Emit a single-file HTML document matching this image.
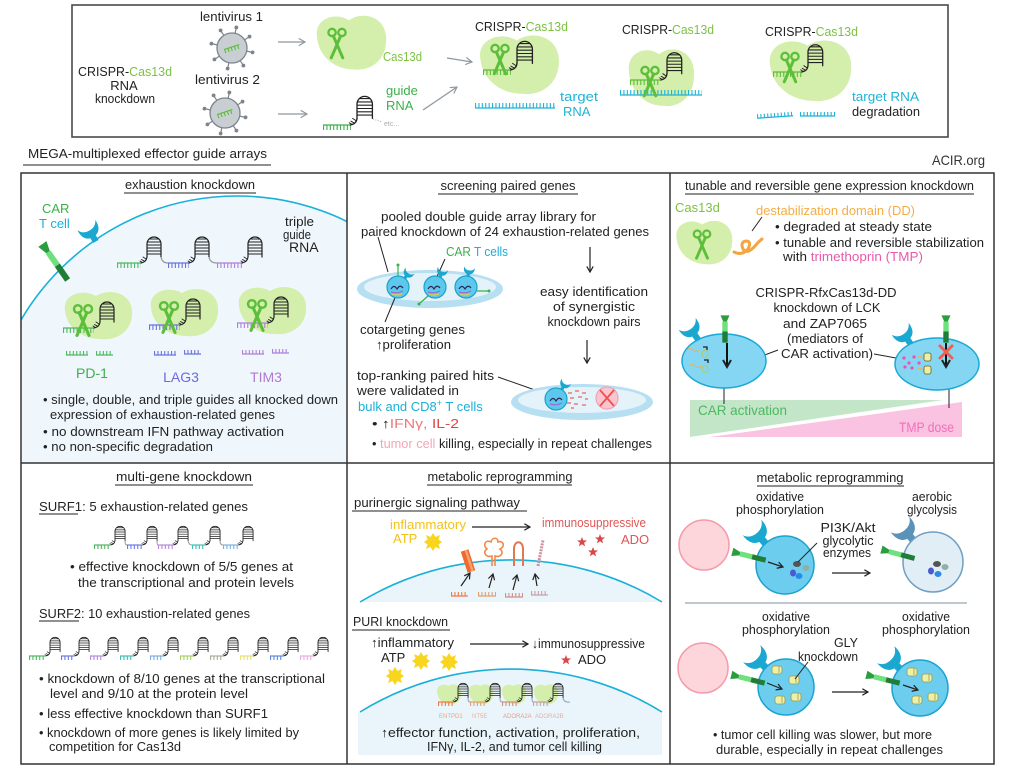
<!DOCTYPE html>
<html><head><meta charset="utf-8">
<style>
html,body{margin:0;padding:0;background:#fff;width:1024px;height:768px;overflow:hidden}
svg{display:block}
text{font-family:"Liberation Sans",sans-serif;font-size:13px;fill:#222}
.c{text-anchor:middle}
.cl{fill:none;stroke-width:1.2}
.ck{fill:none;stroke-width:5;stroke-dasharray:1.1 2.3}
.ln{stroke:#222;stroke-width:1;fill:none}
.ar{stroke:#222;stroke-width:1.2;fill:none;marker-end:url(#ah)}
.ag{stroke:#8e97a0;stroke-width:1.3;fill:none;marker-end:url(#ag)}
</style></head><body>
<svg width="1024" height="768" viewBox="0 0 1024 768" xmlns="http://www.w3.org/2000/svg">
<defs>
<marker id="ah" viewBox="0 0 10 10" refX="8" refY="5" markerWidth="8" markerHeight="8" orient="auto" markerUnits="userSpaceOnUse"><path d="M1,1L8,5L1,9" fill="none" stroke="#222" stroke-width="1.5"/></marker>
<marker id="ag" viewBox="0 0 10 10" refX="8" refY="5" markerWidth="9" markerHeight="9" orient="auto" markerUnits="userSpaceOnUse"><path d="M1,1L8,5L1,9" fill="none" stroke="#8e97a0" stroke-width="1.3"/></marker>
<marker id="ahb" viewBox="0 0 10 10" refX="7" refY="5" markerWidth="10" markerHeight="10" orient="auto" markerUnits="userSpaceOnUse"><path d="M1,1L8,5L1,9" fill="none" stroke="#222" stroke-width="2"/></marker>
<g id="hp" fill="none" stroke="#222" stroke-width="1.2" stroke-linecap="round">
<path d="M0,-6V-19A7,7,0,0,1,14,-19V-6"/>
<path d="M0,-9H14M0,-12H14M0,-15H14M0,-18H14M0.5,-21H13.5M2.5,-24H11.5" stroke-width="1"/>
<path d="M0,-6Q-0.5,-1,-6,0"/>
<path d="M-1,-4L-4,-6M-2.5,-1.8L-5.5,-3.5M-4.5,-0.5L-7,-2" stroke-width="0.9"/>
</g>
<g id="sc" fill="none" stroke="#5cbf3a" stroke-linecap="round">
<circle cx="-4.3" cy="-10" r="3.2" stroke-width="2"/>
<circle cx="4.3" cy="-10" r="3.2" stroke-width="2"/>
<path d="M-3.2,-7L5,12M3.2,-7L-5,12" stroke-width="2.6"/>
</g>
<path id="bl" fill="#d4eeab" d="M-33,-4C-36,-20,-16,-27,-2,-19C12,-28,36,-22,34,0C33,17,18,26,2,24C-14,24,-31,14,-33,-4Z"/>
<g id="rc"><path d="M-9,-15C-9.5,-6,-5,-3,0,-3C5,-3,9.5,-6,9,-15C7,-11,4,-9.5,0,-9.5C-4,-9.5,-7,-11,-9,-15Z"/><rect x="-2.7" y="-4" width="5.4" height="5.5"/></g>
<g id="car"><path d="M-5,-22H5L2,-12H-2Z" fill="#2a9d3e"/><rect x="-3" y="-12" width="6" height="16" fill="#6ee07c"/><rect x="-3" y="4" width="6" height="18" fill="#1f7d36"/></g>
<g id="vir">
<g stroke="#7c848e" stroke-width="1.2" transform="rotate(12)"><path d="M-21,0H21M0,-21V21M-14.8,-14.8L14.8,14.8M-14.8,14.8L14.8,-14.8"/></g>
<g fill="#7c848e" transform="rotate(12)"><circle cx="21" r="1.9"/><circle cx="-21" r="1.9"/><circle cy="21" r="1.9"/><circle cy="-21" r="1.9"/><circle cx="14.8" cy="14.8" r="1.9"/><circle cx="-14.8" cy="14.8" r="1.9"/><circle cx="14.8" cy="-14.8" r="1.9"/><circle cx="-14.8" cy="-14.8" r="1.9"/></g>
<circle r="15" fill="#c9ced3" stroke="#7c848e" stroke-width="1.3"/>
<g transform="rotate(-18)" stroke="#5cbf3a"><path class="cl" d="M-8,-1H8"/><path class="ck" style="stroke-width:4" d="M-8,1H8"/></g>
</g>
<g id="yb"><rect x="-5" y="-4" width="10" height="8" rx="2.5" fill="#eef0a6" stroke="#9a9a50" stroke-width="0.8"/><path d="M2,-4V3" stroke="#9a9a50" stroke-width="0.8"/></g>
<path id="burst" fill="#f8d620" d="M0,-9L2.5,-5L7,-7L5.5,-2.5L9,0L5.5,2.5L7,7L2.5,5L0,9L-2.5,5L-7,7L-5.5,2.5L-9,0L-5.5,-2.5L-7,-7L-2.5,-5Z"/>
<path id="star" fill="#d84848" d="M0,-5L1.3,-1.6L5,-1.5L2.1,0.8L3.1,4.4L0,2.3L-3.1,4.4L-2.1,0.8L-5,-1.5L-1.3,-1.6Z"/>
<clipPath id="p1"><rect x="21" y="173" width="326" height="290"/></clipPath>
</defs>
<rect width="1024" height="768" fill="#fff"/>

<!-- TOP BOX -->
<rect x="72" y="5" width="876" height="132" fill="none" stroke="#4a4a4a" stroke-width="1.6"/>
<text x="200" y="21" textLength="63" lengthAdjust="spacingAndGlyphs">lentivirus 1</text>
<use href="#vir" transform="translate(232,48)"/>
<text x="195" y="84" textLength="65" lengthAdjust="spacingAndGlyphs">lentivirus 2</text>
<use href="#vir" transform="translate(225,113)"/>
<text x="125" y="76" class="c" textLength="94" lengthAdjust="spacingAndGlyphs">CRISPR-<tspan fill="#7cc242">Cas13d</tspan></text>
<text x="124" y="90" class="c">RNA</text>
<text x="125" y="103" class="c" textLength="60" lengthAdjust="spacingAndGlyphs">knockdown</text>
<path class="ag" d="M278,42H305"/>
<path class="ag" d="M278,114H307"/>
<path class="ag" d="M423,110L457,87"/>
<path class="ag" d="M447,58L472,62"/>
<use href="#bl" transform="translate(351,42) scale(1.03,1.14)"/>
<use href="#sc" transform="translate(337,44) scale(1.15)"/>
<text x="383" y="61" textLength="39" lengthAdjust="spacingAndGlyphs" style="fill:#7cc242">Cas13d</text>
<g stroke="#3cb04a"><path class="cl" d="M323,125H351"/><path class="ck" d="M323,127.5H351"/></g>
<use href="#hp" transform="translate(357,125) scale(1.1)"/>
<path d="M373,119L382,122" stroke="#aaa" stroke-width="1" stroke-dasharray="1 1.5"/>
<text x="384" y="126" style="font-size:7px;fill:#aaa">etc...</text>
<text x="386" y="95" style="fill:#3cb04a">guide</text>
<text x="386" y="110" style="fill:#3cb04a">RNA</text>

<text x="475" y="31" textLength="93" lengthAdjust="spacingAndGlyphs">CRISPR-<tspan fill="#7cc242">Cas13d</tspan></text>
<use href="#bl" transform="translate(519,64) scale(1.17,1.24)"/>
<g stroke="#5cbf3a"><path class="cl" d="M483,70H511"/><path class="ck" d="M483,72.5H511"/></g>
<use href="#hp" transform="translate(517,70) scale(1.1)"/>
<use href="#sc" transform="translate(500,60) scale(1.15)"/>
<g stroke="#1fb3d6"><path class="cl" d="M475,108H555"/><path class="ck" d="M475,105.5H555"/></g>
<text x="560" y="101" textLength="38" lengthAdjust="spacingAndGlyphs" style="fill:#1fb3d6">target</text>
<text x="563" y="116" style="fill:#1fb3d6">RNA</text>

<text x="622" y="34" textLength="92" lengthAdjust="spacingAndGlyphs">CRISPR-<tspan fill="#7cc242">Cas13d</tspan></text>
<use href="#bl" transform="translate(661,77) scale(0.97,1.2)"/>
<g stroke="#5cbf3a"><path class="cl" d="M630,80H660"/><path class="ck" d="M630,82.5H660"/></g>
<use href="#hp" transform="translate(667,80) scale(1.05)"/>
<g stroke="#1fb3d6"><path class="cl" d="M620,95H702"/><path class="ck" d="M620,92.5H702"/></g>
<use href="#sc" transform="translate(650,82) scale(1.15)"/>

<text x="765" y="36" textLength="93" lengthAdjust="spacingAndGlyphs">CRISPR-<tspan fill="#7cc242">Cas13d</tspan></text>
<use href="#bl" transform="translate(810,70) scale(1.21,1.28)"/>
<g stroke="#5cbf3a"><path class="cl" d="M773,72H802"/><path class="ck" d="M773,74.5H802"/></g>
<use href="#hp" transform="translate(808,72) scale(1.05)"/>
<use href="#sc" transform="translate(790,68) scale(1.15)"/>
<g stroke="#1fb3d6" transform="rotate(-4,775,115)"><path class="cl" d="M757,117H793"/><path class="ck" style="stroke-width:4" d="M757,115H793"/></g>
<g stroke="#1fb3d6"><path class="cl" d="M800,116H835"/><path class="ck" style="stroke-width:4" d="M800,114H835"/></g>
<text x="852" y="101" textLength="67" lengthAdjust="spacingAndGlyphs" style="fill:#1fb3d6">target RNA</text>
<text x="852" y="116" textLength="68" lengthAdjust="spacingAndGlyphs">degradation</text>

<!-- HEADER -->
<text x="28" y="158" textLength="239" lengthAdjust="spacingAndGlyphs">MEGA-multiplexed effector guide arrays</text>
<path class="ln" d="M23,165H271"/>
<text x="932" y="165" textLength="53" lengthAdjust="spacingAndGlyphs" style="font-size:14px;fill:#333">ACIR.org</text>

<!-- PANEL 1 -->
<g clip-path="url(#p1)"><circle cx="237" cy="446" r="250" fill="#f0f7fc" stroke="#1ab0d8" stroke-width="1.6"/></g>
<text x="190" y="189" class="c" textLength="130" lengthAdjust="spacingAndGlyphs">exhaustion knockdown</text>
<path class="ln" d="M124,193H256"/>
<text x="42" y="213" style="fill:#3cb04a">CAR</text>
<text x="39" y="228" style="fill:#1ab0d8">T cell</text>
<use href="#rc" fill="#1aa8d0" transform="translate(95,240) rotate(-30) scale(1.15)"/>
<use href="#car" transform="translate(55,262) rotate(-35)"/>
<g stroke="#4cb860"><path class="cl" d="M117,263H141"/><path class="ck" d="M117,265.5H141"/></g>
<use href="#hp" transform="translate(147,263)"/>
<path d="M161,257Q162,263,168,263" stroke="#999" fill="none" stroke-width="1.2"/>
<g stroke="#6a72e0"><path class="cl" d="M168,263H189"/><path class="ck" d="M168,265.5H189"/></g>
<use href="#hp" transform="translate(195,263)"/>
<path d="M209,257Q210,263,217,263" stroke="#999" fill="none" stroke-width="1.2"/>
<g stroke="#b080d8"><path class="cl" d="M217,263H242"/><path class="ck" d="M217,265.5H242"/></g>
<use href="#hp" transform="translate(248,263)"/>
<text x="285" y="226" textLength="29" lengthAdjust="spacingAndGlyphs">triple</text>
<text x="283" y="239" textLength="28" lengthAdjust="spacingAndGlyphs">guide</text>
<text x="289" y="252" style="font-size:14px">RNA</text>

<use href="#bl" transform="translate(98,315)"/>
<g stroke="#4cb860"><path class="cl" d="M63,328H94"/><path class="ck" d="M63,330.5H94"/></g>
<use href="#hp" transform="translate(100,328)"/>
<use href="#sc" transform="translate(83,321) scale(1.2)"/>
<g stroke="#4cb860"><path class="cl" d="M66,355H88M96,355H113"/><path class="ck" style="stroke-width:4" d="M66,353H88M96,353H113"/></g>

<use href="#bl" transform="translate(184,312)"/>
<g stroke="#6a72e0"><path class="cl" d="M149,325H180"/><path class="ck" d="M149,327.5H180"/></g>
<use href="#hp" transform="translate(186,325)"/>
<use href="#sc" transform="translate(169,318) scale(1.2)"/>
<g stroke="#6a72e0"><path class="cl" d="M154,355H176M184,354H201"/><path class="ck" style="stroke-width:4" d="M154,353H176M184,352H201"/></g>

<use href="#bl" transform="translate(272,310)"/>
<g stroke="#b080d8"><path class="cl" d="M237,323H268"/><path class="ck" d="M237,325.5H268"/></g>
<use href="#hp" transform="translate(274,323)"/>
<use href="#sc" transform="translate(257,316) scale(1.2)"/>
<g stroke="#b080d8"><path class="cl" d="M242,354H264M272,353H289"/><path class="ck" style="stroke-width:4" d="M242,352H264M272,351H289"/></g>

<text x="92" y="378" class="c" style="font-size:14px;fill:#3cb04a">PD-1</text>
<text x="181" y="382" class="c" style="font-size:14px;fill:#6a6ae0">LAG3</text>
<text x="266" y="382" class="c" style="font-size:14px;fill:#b07ad0">TIM3</text>
<text x="43" y="404" textLength="295" lengthAdjust="spacingAndGlyphs">• single, double, and triple guides all knocked down</text>
<text x="50" y="419" textLength="225" lengthAdjust="spacingAndGlyphs">expression of exhaustion-related genes</text>
<text x="43" y="436" textLength="241" lengthAdjust="spacingAndGlyphs">• no downstream IFN pathway activation</text>
<text x="43" y="451" textLength="170" lengthAdjust="spacingAndGlyphs">• no non-specific degradation</text>

<!-- PANEL 2 -->
<text x="508" y="190" class="c" textLength="135" lengthAdjust="spacingAndGlyphs">screening paired genes</text>
<path class="ln" d="M438,194H578"/>
<text x="381" y="221" textLength="215" lengthAdjust="spacingAndGlyphs">pooled double guide array library for</text>
<text x="361" y="236" textLength="288" lengthAdjust="spacingAndGlyphs">paired knockdown of 24 exhaustion-related genes</text>
<text x="446" y="256" textLength="62" lengthAdjust="spacingAndGlyphs"><tspan fill="#3cb04a">CAR </tspan><tspan fill="#1ab0d8">T cells</tspan></text>
<ellipse cx="430" cy="289" rx="73" ry="19" fill="#b6dff2"/>
<ellipse cx="430" cy="287" rx="66" ry="14" fill="#e4f3fa"/>
<path class="ln" d="M378,237L388,272M445,259L435,281M385,322L397,293"/>
<g stroke-width="1.2">
<path d="M398,276V266M428,296L419,304M477,291H489" stroke="#3cb04a"/>
<circle cx="398" cy="265" r="1.5" fill="#3cb04a"/><circle cx="419" cy="304" r="1.5" fill="#3cb04a"/><circle cx="489" cy="291" r="1.5" fill="#3cb04a"/>
</g>
<use href="#rc" fill="#1aa8d0" transform="translate(405,278) rotate(35) scale(0.6)"/>
<use href="#rc" fill="#1aa8d0" transform="translate(440,277) rotate(20) scale(0.6)"/>
<use href="#rc" fill="#1aa8d0" transform="translate(468,276) rotate(10) scale(0.6)"/>
<g stroke="#1aa2cf" stroke-width="1.2" fill="#5ec8ec"><circle cx="398" cy="287" r="11"/><circle cx="435" cy="287" r="11"/><circle cx="466" cy="287" r="11"/></g>
<g fill="none" stroke-width="1.2">
<path d="M391,289q3,-5 6,0q3,-5 6,-1M428,289q3,-5 6,0q3,-5 6,-1M459,289q3,-5 6,0q3,-5 6,-1" stroke="#2a2a5a"/>
<path d="M391,292q6,2 12,-1M428,292q6,2 12,-1M459,292q6,2 12,-1" stroke="#9a6ad0"/>
<path d="M392,294q5,2 10,0M429,294q5,2 10,0M460,294q5,2 10,0" stroke="#e8d040"/>
</g>
<text x="594" y="296" class="c" textLength="108" lengthAdjust="spacingAndGlyphs">easy identification</text>
<text x="594" y="311" class="c" textLength="82" lengthAdjust="spacingAndGlyphs">of synergistic</text>
<text x="594" y="326" class="c" textLength="93" lengthAdjust="spacingAndGlyphs">knockdown pairs</text>
<path class="ar" d="M590,247V272"/>
<path class="ar" d="M587,340V363"/>
<text x="360" y="334" textLength="105" lengthAdjust="spacingAndGlyphs">cotargeting genes</text>
<text x="376" y="349" textLength="75" lengthAdjust="spacingAndGlyphs">↑proliferation</text>
<text x="357" y="380" textLength="137" lengthAdjust="spacingAndGlyphs">top-ranking paired hits</text>
<text x="357" y="395" textLength="102" lengthAdjust="spacingAndGlyphs">were validated in</text>
<text x="358" y="411" style="fill:#1ab0d8">bulk and CD8<tspan dy="-5" style="font-size:9px">+</tspan><tspan dy="5"> T cells</tspan></text>
<text x="372" y="428" textLength="87" lengthAdjust="spacingAndGlyphs">• ↑<tspan fill="#f07878">IFNγ, </tspan> <tspan fill="#e04848">IL-2</tspan></text>
<text x="372" y="448" textLength="280" lengthAdjust="spacingAndGlyphs">• <tspan fill="#f5a5b5">tumor cell</tspan> killing, especially in repeat challenges</text>
<path class="ln" d="M498,377L552,396"/>
<ellipse cx="582" cy="402" rx="71" ry="18" fill="#b6dff2"/>
<ellipse cx="582" cy="400" rx="64" ry="13" fill="#e4f3fa"/>
<use href="#rc" fill="#1aa8d0" transform="translate(562,389) rotate(30) scale(0.6)"/>
<circle cx="556" cy="399" r="11" fill="#5ec8ec" stroke="#1aa2cf" stroke-width="1.2"/>
<path d="M550,401q3,-5 6,0q3,-5 6,-1" stroke="#2a2a5a" fill="none" stroke-width="1.2"/>
<path d="M550,404q6,2 12,-1" stroke="#9a6ad0" fill="none" stroke-width="1.2"/>
<path d="M568,393h4M575,391h4M582,393h4M570,398h4M578,397h4M585,399h3M567,403h4M574,404h4M582,405h4M571,408h3" stroke="#f06060" stroke-width="1.2"/>
<circle cx="607" cy="398" r="11" fill="#f9c6d0" stroke="#f2a3b3" stroke-width="1.2"/>
<path d="M600,390L614,406M614,390L600,406" stroke="#f05050" stroke-width="1.8"/>

<!-- PANEL 3 -->
<text x="685" y="190" textLength="289" lengthAdjust="spacingAndGlyphs">tunable and reversible gene expression knockdown</text>
<path class="ln" d="M685,194H974"/>
<text x="675" y="212" style="fill:#7cc242">Cas13d</text>
<use href="#bl" transform="translate(704,242) scale(0.83,0.92)"/>
<use href="#sc" transform="translate(702,245) scale(1.1)"/>
<path d="M734,252q8,4 14,-3q4,-8 -2,-8q-6,1 -3,8q4,6 12,-3q3,-4 7,-7" fill="none" stroke="#f5a540" stroke-width="3" stroke-linecap="round"/>
<path class="ln" d="M762,217L752,231"/>
<text x="756" y="215" textLength="159" lengthAdjust="spacingAndGlyphs" style="fill:#f5ad45">destabilization domain (DD)</text>
<text x="775" y="231" textLength="157" lengthAdjust="spacingAndGlyphs">• degraded at steady state</text>
<text x="775" y="247" textLength="209" lengthAdjust="spacingAndGlyphs">• tunable and reversible stabilization</text>
<text x="783" y="261" textLength="140" lengthAdjust="spacingAndGlyphs">with <tspan fill="#e85aaa">trimethoprin (TMP)</tspan></text>
<text x="826" y="297" class="c" textLength="141" lengthAdjust="spacingAndGlyphs">CRISPR-RfxCas13d-DD</text>
<text x="827" y="312" class="c" textLength="107" lengthAdjust="spacingAndGlyphs">knockdown of LCK</text>
<text x="825" y="328" class="c" textLength="84" lengthAdjust="spacingAndGlyphs">and ZAP7065</text>
<text x="825" y="343" class="c" textLength="76" lengthAdjust="spacingAndGlyphs">(mediators of</text>
<text x="827" y="358" class="c" textLength="92" lengthAdjust="spacingAndGlyphs">CAR activation)</text>
<polygon points="690,400 943,400 690,437" fill="#c3e6c9"/>
<polygon points="962,402 962,437 710,437" fill="#fac3e1"/>
<text x="698" y="415" textLength="89" lengthAdjust="spacingAndGlyphs" style="font-size:14px;fill:#4cb860">CAR activation</text>
<text x="899" y="432" textLength="55" lengthAdjust="spacingAndGlyphs" style="font-size:14px;fill:#f070b8">TMP dose</text>
<path class="ln" d="M724,386V404M949,388V408M762,356L778,350M874,354L896,358"/>
<use href="#rc" fill="#1aa8d0" transform="translate(697,338) rotate(-35) scale(1.15)"/>
<use href="#rc" fill="#1aa8d0" transform="translate(910,343) rotate(-35) scale(1.15)"/>
<ellipse cx="724" cy="361" rx="42" ry="27" fill="#84d6f3" stroke="#1aa8d4" stroke-width="1.5"/>
<ellipse cx="937" cy="364" rx="42" ry="26" fill="#84d6f3" stroke="#1aa8d4" stroke-width="1.5"/>
<use href="#car" transform="translate(725,329) scale(0.9,0.62)"/>
<use href="#car" transform="translate(946,329) scale(0.9,0.62)"/>
<path d="M727,343V366" stroke="#111" stroke-width="2" marker-end="url(#ahb)"/>
<path d="M946,343V366" stroke="#111" stroke-width="2" marker-end="url(#ahb)"/>
<path d="M940,346L952,358M952,346L940,358" stroke="#f06050" stroke-width="3" stroke-linecap="round"/>
<g fill="none" stroke-width="1">
<path d="M687,350q3,-3 6,0q3,3 6,0M689,366q3,-3 6,0q3,3 6,0" stroke="#f0b050"/>
<path d="M703,347h4v3M704,360h4v3" stroke="#222" stroke-width="1.3"/>
<ellipse cx="705" cy="354" rx="3" ry="3.5" stroke="#b8c860"/><ellipse cx="705" cy="369" rx="3" ry="3.5" stroke="#b8c860"/>
<path d="M917,358q3,-3 6,0M917,370q3,-3 6,0" stroke="#f0b050"/>
</g>
<g fill="#f050b0"><circle cx="904" cy="358" r="1.6"/><circle cx="909" cy="363" r="1.6"/><circle cx="914" cy="357" r="1.6"/><circle cx="912" cy="368" r="1.6"/><circle cx="905" cy="367" r="1.6"/><circle cx="919" cy="363" r="1.6"/></g>
<rect x="924" y="353" width="7" height="8" rx="2" fill="#f0f0a0" stroke="#606030" stroke-width="0.8"/>
<rect x="924" y="366" width="7" height="8" rx="2" fill="#f0f0a0" stroke="#606030" stroke-width="0.8"/>

<!-- PANEL 4 -->
<text x="184" y="481" class="c" textLength="136" lengthAdjust="spacingAndGlyphs">multi-gene knockdown</text>
<path class="ln" d="M115,485H253"/>
<text x="39" y="511" textLength="209" lengthAdjust="spacingAndGlyphs">SURF1:  5 exhaustion-related genes</text>
<path class="ln" d="M39,514H78"/>
<g>
<g stroke="#4cb860"><path class="cl" d="M94,545H110"/><path class="ck" style="stroke-width:4" d="M94,547H110"/></g>
<g stroke="#6a7ae0"><path class="cl" d="M127,545H142"/><path class="ck" style="stroke-width:4" d="M127,547H142"/></g>
<g stroke="#b58ad8"><path class="cl" d="M158,545H173"/><path class="ck" style="stroke-width:4" d="M158,547H173"/></g>
<g stroke="#3cc0b0"><path class="cl" d="M192,545H205"/><path class="ck" style="stroke-width:4" d="M192,547H205"/></g>
<g stroke="#7ab0e0"><path class="cl" d="M223,545H238"/><path class="ck" style="stroke-width:4" d="M223,547H238"/></g>
<path d="M125,541Q125,545,127,545M157,541Q157,545,158,545M188,541Q189,545,192,545M220,541Q220,545,223,545" stroke="#999" fill="none"/>
<use href="#hp" transform="translate(115,545) scale(0.72)"/>
<use href="#hp" transform="translate(147,545) scale(0.72)"/>
<use href="#hp" transform="translate(178,545) scale(0.72)"/>
<use href="#hp" transform="translate(210,545) scale(0.72)"/>
<use href="#hp" transform="translate(243,545) scale(0.72)"/>
</g>
<text x="70" y="571" textLength="223" lengthAdjust="spacingAndGlyphs">• effective knockdown of 5/5 genes at</text>
<text x="78" y="587" textLength="216" lengthAdjust="spacingAndGlyphs">the transcriptional and protein levels</text>
<text x="39" y="618" textLength="211" lengthAdjust="spacingAndGlyphs">SURF2: 10 exhaustion-related genes</text>
<path class="ln" d="M39,621H79"/>
<g>
<g stroke="#4cb860"><path class="cl" d="M29,656H45"/><path class="ck" style="stroke-width:4" d="M29,658H45"/></g>
<g stroke="#6a7ae0"><path class="cl" d="M61,656H74"/><path class="ck" style="stroke-width:4" d="M61,658H74"/></g>
<g stroke="#b58ad8"><path class="cl" d="M90,656H103"/><path class="ck" style="stroke-width:4" d="M90,658H103"/></g>
<g stroke="#3cc0b0"><path class="cl" d="M120,656H133"/><path class="ck" style="stroke-width:4" d="M120,658H133"/></g>
<g stroke="#7ab0e0"><path class="cl" d="M150,656H163"/><path class="ck" style="stroke-width:4" d="M150,658H163"/></g>
<g stroke="#a8d060"><path class="cl" d="M180,656H193"/><path class="ck" style="stroke-width:4" d="M180,658H193"/></g>
<g stroke="#a8ac98"><path class="cl" d="M210,656H223"/><path class="ck" style="stroke-width:4" d="M210,658H223"/></g>
<g stroke="#e8e070"><path class="cl" d="M240,656H253"/><path class="ck" style="stroke-width:4" d="M240,658H253"/></g>
<g stroke="#5a88e0"><path class="cl" d="M270,656H283"/><path class="ck" style="stroke-width:4" d="M270,658H283"/></g>
<g stroke="#e6aee0"><path class="cl" d="M300,656H313"/><path class="ck" style="stroke-width:4" d="M300,658H313"/></g>
<use href="#hp" transform="translate(50,656) scale(0.72)"/>
<use href="#hp" transform="translate(79,656) scale(0.72)"/>
<use href="#hp" transform="translate(108,656) scale(0.72)"/>
<use href="#hp" transform="translate(138,656) scale(0.72)"/>
<use href="#hp" transform="translate(168,656) scale(0.72)"/>
<use href="#hp" transform="translate(198,656) scale(0.72)"/>
<use href="#hp" transform="translate(228,656) scale(0.72)"/>
<use href="#hp" transform="translate(258,656) scale(0.72)"/>
<use href="#hp" transform="translate(288,656) scale(0.72)"/>
<use href="#hp" transform="translate(318,656) scale(0.72)"/>
</g>
<text x="39" y="683" textLength="286" lengthAdjust="spacingAndGlyphs">• knockdown of 8/10 genes at the transcriptional</text>
<text x="50" y="698" textLength="198" lengthAdjust="spacingAndGlyphs">level and 9/10 at the protein level</text>
<text x="39" y="718" textLength="229" lengthAdjust="spacingAndGlyphs">• less effective knockdown than SURF1</text>
<text x="39" y="737" textLength="260" lengthAdjust="spacingAndGlyphs">• knockdown of more genes is likely limited by</text>
<text x="49" y="751" textLength="132" lengthAdjust="spacingAndGlyphs">competition for Cas13d</text>

<!-- PANEL 5 -->
<text x="500" y="481" class="c" textLength="145" lengthAdjust="spacingAndGlyphs">metabolic reprogramming</text>
<path class="ln" d="M427,485H572"/>
<text x="354" y="507" textLength="166" lengthAdjust="spacingAndGlyphs">purinergic signaling pathway</text>
<path class="ln" d="M352,511H527"/>
<text x="390" y="529" textLength="76" lengthAdjust="spacingAndGlyphs" style="fill:#f2c21a">inflammatory</text>
<text x="393" y="543" style="fill:#f2c21a">ATP</text>
<path class="ar" d="M472,527H530"/>
<text x="542" y="527" textLength="104" lengthAdjust="spacingAndGlyphs" style="fill:#e05555">immunosuppressive</text>
<text x="621" y="544" style="fill:#e05555">ADO</text>
<use href="#star" transform="translate(582,542)"/>
<use href="#star" transform="translate(600,539)"/>
<use href="#star" transform="translate(593,552)"/>
<use href="#burst" transform="translate(433,542)"/>
<path d="M360,602A292,292,0,0,1,662,602Z" fill="#eaf5fb"/>
<path d="M360,602A292,292,0,0,1,662,602" fill="none" stroke="#1ab0d8" stroke-width="1.6"/>
<rect x="-4" y="-11" width="8" height="22" fill="#f06a2a" transform="translate(468,561) rotate(-18)"/>
<rect x="0" y="-11" width="2.5" height="22" fill="#f8a070" transform="translate(468,561) rotate(-18)"/>
<path d="M492,566V556C486,558,482,552,487,549C482,545,486,539,491,542C492,537,498,537,498,542C503,540,506,546,500,549C505,553,500,558,495,556V566" stroke="#f0884a" fill="none" stroke-width="1.6"/>
<path d="M514,566V549C514,540,523,540,523,549V566" stroke="#e07850" fill="none" stroke-width="2"/>
<path d="M538,566L543,540" stroke="#d09098" stroke-width="3" stroke-dasharray="2 1"/>
<path class="ar" d="M461,586L470,573"/>
<path class="ar" d="M489,588L493,574"/>
<path class="ar" d="M513,590L517,575"/>
<path class="ar" d="M537,586L535,574"/>
<g stroke="#f07a40"><path class="cl" d="M451,596H468"/><path class="ck" style="stroke-width:4" d="M451,594H468"/></g>
<g stroke="#e0a070"><path class="cl" d="M478,596H496"/><path class="ck" style="stroke-width:4" d="M478,594H496"/></g>
<g stroke="#d09080"><path class="cl" d="M505,597H523"/><path class="ck" style="stroke-width:4" d="M505,595H523"/></g>
<g stroke="#c8a0a8"><path class="cl" d="M531,595H548"/><path class="ck" style="stroke-width:4" d="M531,593H548"/></g>
<text x="353" y="626" textLength="95" lengthAdjust="spacingAndGlyphs">PURI knockdown</text>
<path class="ln" d="M352,630H450"/>
<text x="371" y="647" textLength="83" lengthAdjust="spacingAndGlyphs">↑inflammatory</text>
<text x="381" y="662">ATP</text>
<path class="ar" d="M470,644H528"/>
<text x="532" y="648" textLength="113" lengthAdjust="spacingAndGlyphs">↓immunosuppressive</text>
<text x="578" y="664">ADO</text>
<use href="#star" transform="translate(566,660)"/>
<use href="#burst" transform="translate(421,661)"/>
<use href="#burst" transform="translate(449,662)"/>
<use href="#burst" transform="translate(395,676)"/>
<path d="M358,712L360,712A287,287,0,0,1,662,712V755H358Z" fill="#eaf5fb"/>
<path d="M360,712A287,287,0,0,1,662,712" fill="none" stroke="#1ab0d8" stroke-width="1.6"/>
<use href="#bl" transform="translate(449,694) scale(0.36,0.42)"/>
<use href="#bl" transform="translate(481,694) scale(0.36,0.42)"/>
<use href="#bl" transform="translate(514,694) scale(0.36,0.42)"/>
<use href="#bl" transform="translate(546,694) scale(0.36,0.42)"/>
<g stroke="#f07a40"><path class="cl" d="M438,702H453"/><path class="ck" style="stroke-width:4" d="M438,704H453"/></g>
<g stroke="#e0a070"><path class="cl" d="M470,702H485"/><path class="ck" style="stroke-width:4" d="M470,704H485"/></g>
<g stroke="#d09080"><path class="cl" d="M502,702H517"/><path class="ck" style="stroke-width:4" d="M502,704H517"/></g>
<g stroke="#c8a0a8"><path class="cl" d="M533,702H548"/><path class="ck" style="stroke-width:4" d="M533,704H548"/></g>
<path d="M468,698Q468,702,470,702M500,698Q500,702,502,702M532,698Q532,702,533,702M563,698Q564,703,570,702" stroke="#8aa0b8" fill="none"/>
<use href="#hp" transform="translate(458,702) scale(0.72)"/>
<use href="#hp" transform="translate(490,702) scale(0.72)"/>
<use href="#hp" transform="translate(522,702) scale(0.72)"/>
<use href="#hp" transform="translate(553,702) scale(0.72)"/>
<text x="439" y="718" style="font-size:6px;fill:#f0a080">ENTPD1</text>
<text x="472" y="718" style="font-size:6px;fill:#f0b090">NT5E</text>
<text x="503" y="718" style="font-size:6px;fill:#e0a090">ADORA2A</text>
<text x="535" y="718" style="font-size:6px;fill:#e0b0b0">ADORA2B</text>
<text x="381" y="737" textLength="259" lengthAdjust="spacingAndGlyphs">↑effector function, activation, proliferation,</text>
<text x="427" y="751" textLength="175" lengthAdjust="spacingAndGlyphs">IFNγ, IL-2, and tumor cell killing</text>

<!-- PANEL 6 -->
<text x="830" y="482" class="c" textLength="147" lengthAdjust="spacingAndGlyphs">metabolic reprogramming</text>
<path class="ln" d="M757,486H904"/>
<text x="780" y="501" class="c" textLength="48" lengthAdjust="spacingAndGlyphs">oxidative</text>
<text x="780" y="514" class="c" textLength="88" lengthAdjust="spacingAndGlyphs">phosphorylation</text>
<text x="932" y="501" class="c" textLength="40" lengthAdjust="spacingAndGlyphs">aerobic</text>
<text x="932" y="514" class="c" textLength="50" lengthAdjust="spacingAndGlyphs">glycolysis</text>
<text x="848" y="532" class="c" textLength="55" lengthAdjust="spacingAndGlyphs">PI3K/Akt</text>
<text x="848" y="545" class="c" textLength="51" lengthAdjust="spacingAndGlyphs">glycolytic</text>
<text x="847" y="557" class="c" textLength="48" lengthAdjust="spacingAndGlyphs">enzymes</text>
<circle cx="704" cy="545" r="25" fill="#fdd6dc" stroke="#f59aaa" stroke-width="1.5"/>
<use href="#rc" fill="#1aa8d0" transform="translate(765,543) rotate(-40) scale(1.35)"/>
<circle cx="785" cy="565" r="29" fill="#6dcdee" stroke="#1aa3cf" stroke-width="1.5"/>
<use href="#car" transform="translate(749,556) rotate(-76) scale(0.85,0.78)"/>
<path class="ar" d="M768,562L783,567"/>
<ellipse cx="797" cy="564" rx="4" ry="3" fill="#555"/>
<ellipse cx="806" cy="568" rx="3.5" ry="3" fill="#8fb0a8"/>
<ellipse cx="793" cy="573" rx="3" ry="3.5" fill="#4a5ad0"/>
<ellipse cx="799" cy="576" rx="3.5" ry="3" fill="#2a8ae8"/>
<path class="ln" d="M817,543L798,562"/>
<path class="ar" d="M832,573H870"/>
<use href="#rc" fill="#5a92b8" transform="translate(913,540) rotate(-40) scale(1.35)"/>
<circle cx="933" cy="562" r="30" fill="#e1eef5" stroke="#6f9fc2" stroke-width="1.5"/>
<use href="#car" transform="translate(898,554) rotate(-75) scale(0.85,0.78)"/>
<ellipse cx="937" cy="564" rx="4" ry="3" fill="#555"/>
<ellipse cx="945" cy="567" rx="3.5" ry="3" fill="#8fb0a8"/>
<ellipse cx="931" cy="571" rx="3" ry="3.5" fill="#4a5ad0"/>
<ellipse cx="938" cy="574" rx="3.5" ry="3" fill="#2a8ae8"/>
<path d="M685,603H967" stroke="#a9b6bf" stroke-width="1.5"/>
<text x="786" y="621" class="c" textLength="48" lengthAdjust="spacingAndGlyphs">oxidative</text>
<text x="786" y="634" class="c" textLength="88" lengthAdjust="spacingAndGlyphs">phosphorylation</text>
<text x="926" y="621" class="c" textLength="48" lengthAdjust="spacingAndGlyphs">oxidative</text>
<text x="926" y="634" class="c" textLength="88" lengthAdjust="spacingAndGlyphs">phosphorylation</text>
<text x="846" y="647" class="c" textLength="24" lengthAdjust="spacingAndGlyphs">GLY</text>
<text x="828" y="661" class="c" textLength="60" lengthAdjust="spacingAndGlyphs">knockdown</text>
<circle cx="703" cy="668" r="25" fill="#fdd6dc" stroke="#f59aaa" stroke-width="1.5"/>
<use href="#rc" fill="#1aa8d0" transform="translate(766,668) rotate(-45) scale(1.35)"/>
<circle cx="786" cy="687" r="28" fill="#6dcdee" stroke="#1aa3cf" stroke-width="1.5"/>
<use href="#car" transform="translate(748,679) rotate(-76) scale(0.85,0.78)"/>
<path class="ar" d="M767,683L782,689"/>
<use href="#yb" transform="translate(777,670)"/>
<use href="#yb" transform="translate(794,680)"/>
<use href="#yb" transform="translate(780,700)"/>
<use href="#yb" transform="translate(796,697)"/>
<path class="ln" d="M808,662L795,679"/>
<path class="ar" d="M832,692H868"/>
<use href="#rc" fill="#1aa8d0" transform="translate(900,669) rotate(-45) scale(1.35)"/>
<circle cx="920" cy="688" r="28" fill="#6dcdee" stroke="#1aa3cf" stroke-width="1.5"/>
<use href="#car" transform="translate(883,679) rotate(-76) scale(0.85,0.78)"/>
<path class="ar" d="M903,685L918,690"/>
<use href="#yb" transform="translate(912,672)"/>
<use href="#yb" transform="translate(927,678)"/>
<use href="#yb" transform="translate(917,700)"/>
<use href="#yb" transform="translate(933,697)"/>
<text x="713" y="739" textLength="219" lengthAdjust="spacingAndGlyphs">• tumor cell killing was slower, but more</text>
<text x="716" y="754" textLength="227" lengthAdjust="spacingAndGlyphs">durable, especially in repeat challenges</text>

<!-- GRID -->
<rect x="21" y="173" width="973" height="591" fill="none" stroke="#333" stroke-width="1.5"/>
<path d="M347,173V764M670,173V764M21,463H994" stroke="#333" stroke-width="1.5"/>
</svg>
</body></html>
